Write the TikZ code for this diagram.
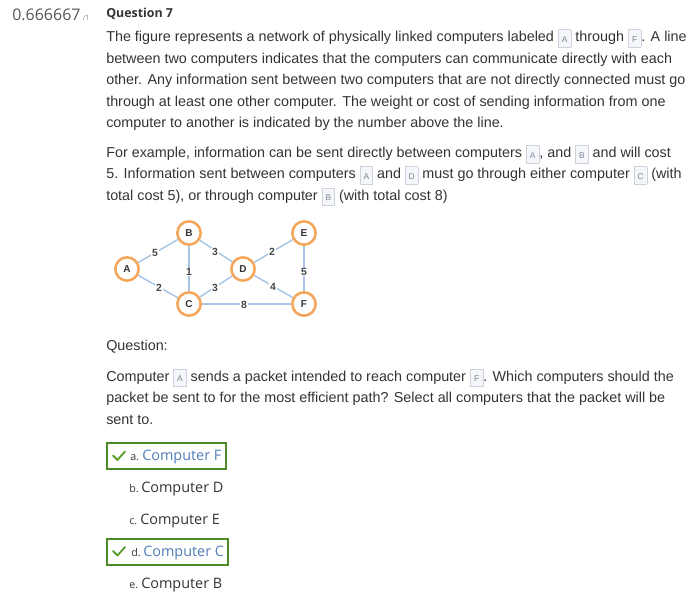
\documentclass[tikz,border=0pt]{standalone}
\usepackage{fontspec}
\setmainfont{Liberation Sans}
\newfontfamily\osans{Open Sans}
\definecolor{txt}{HTML}{333333}
\definecolor{scoregray}{HTML}{555555}
\definecolor{pcorange}{HTML}{F4A65A}
\definecolor{edgeblue}{HTML}{A9C5E6}
\definecolor{okgreen}{HTML}{4B8A24}
\definecolor{tickgreen}{HTML}{5A9E2E}
\definecolor{ansblue}{HTML}{4F7DB6}
\definecolor{boxb}{HTML}{CDD3DC}
\definecolor{boxf}{HTML}{F4F6F9}
\definecolor{boxt}{HTML}{7A8699}
\newcommand{\lbox}[1]{\raisebox{-3.6pt}{\setlength{\fboxsep}{0pt}\setlength{\fboxrule}{0.5pt}\fcolorbox{boxb}{boxf}{\makebox[9pt]{\rule{0pt}{12.6pt}\raisebox{3.3pt}{\fontsize{6.3}{7}\selectfont\color{boxt}#1}}}}}
\tikzset{
  body/.style={anchor=base west, inner sep=0pt, text=txt, font=\fontsize{10.77}{12}\selectfont},
  pc/.style={circle, draw=pcorange, line width=1.9pt, fill=white, minimum size=17.5pt, inner sep=0pt, text=txt, font=\fontsize{7.5}{8}\selectfont\bfseries},
  edge/.style={draw=edgeblue, line width=1.1pt},
  lbl/.style={fill=white, inner sep=0.5pt, text=txt!90, font=\fontsize{7.8}{8}\selectfont\bfseries},
  optlet/.style={anchor=base west, inner sep=0pt, text=txt, font=\osans\fontsize{8}{9}\selectfont},
  opttxt/.style={anchor=base west, inner sep=0pt, font=\osans\fontsize{10.8}{12}\selectfont},
  okbox/.style={draw=okgreen, line width=1.5pt},
  tick/.style={draw=tickgreen, line width=1.4pt, line cap=round, line join=round}
}
\begin{document}
\begin{tikzpicture}[x=0.75pt, y=-0.75pt]
\useasboundingbox (0,0) rectangle (694,595);
% header
\node[anchor=base west, inner sep=0pt, text=scoregray, font=\osans\fontsize{12}{13}\selectfont] (score) at (12,21) {0.666667};
\node[anchor=base west, inner sep=0pt, text=scoregray!70, font=\osans\fontsize{5.5}{6}\selectfont] (outof) at (82.5,21) {/1};
\node[anchor=base west, inner sep=0pt, text=txt, font=\osans\fontsize{9.3}{10}\selectfont\bfseries] (qtitle) at (106,18) {Question 7};
% paragraph 1
\node[body] (p1a) at (106,42) {The figure represents a network of physically linked computers labeled \lbox{A} through \lbox{F}. A line};
\node[body] (p1b) at (106,63.5) {between two computers indicates that the computers can communicate directly with each};
\node[body] (p1c) at (106,85) {other. Any information sent between two computers that are not directly connected must go};
\node[body] (p1d) at (106,106.3) {through at least one other computer. The weight or cost of sending information from one};
\node[body] (p1e) at (106,127.6) {computer to another is indicated by the number above the line.};
% paragraph 2
\node[body] (p2a) at (106,158) {For example, information can be sent directly between computers \lbox{A}, and \lbox{B} and will cost};
\node[body] (p2b) at (106,179) {5. Information sent between computers \lbox{A} and \lbox{D} must go through either computer \lbox{C} (with};
\node[body] (p2c) at (106,200.5) {total cost 5), or through computer \lbox{B} (with total cost 8)};
% graph
\node[pc] (A) at (127,269) {A};
\node[pc] (B) at (189,233) {B};
\node[pc] (C) at (189,304) {C};
\node[pc] (D) at (243,269) {D};
\node[pc] (E) at (304,233) {E};
\node[pc] (F) at (304,304) {F};
\draw[edge] (A) -- (B);
\draw[edge] (B) -- (D);
\draw[edge] (D) -- (E);
\draw[edge] (B) -- (C);
\draw[edge] (E) -- (F);
\draw[edge] (A) -- (C);
\draw[edge] (C) -- (D);
\draw[edge] (D) -- (F);
\draw[edge] (C) -- (F);
\node[lbl] (wAB) at (155,253) {5};
\node[lbl] (wBD) at (215,252) {3};
\node[lbl] (wDE) at (272,251.5) {2};
\node[lbl] (wBC) at (189,272) {1};
\node[lbl] (wEF) at (304,272) {5};
\node[lbl] (wAC) at (159,288) {2};
\node[lbl] (wCD) at (215,288) {3};
\node[lbl] (wDF) at (273,286.5) {4};
\node[lbl] (wCF) at (244,304.5) {8};
% question
\node[body] (qlab) at (106,351) {Question:};
\node[body] (p3a) at (106,381.5) {Computer \lbox{A} sends a packet intended to reach computer \lbox{F}. Which computers should the};
\node[body] (p3b) at (106,403) {packet be sent to for the most efficient path? Select all computers that the packet will be};
\node[body] (p3c) at (106,424.5) {sent to.};
% options
\draw[okbox] (107,443) rectangle (226,469);
\draw[tick] (113,455.5) -- (117.5,460) -- (125,451.5);
\node[optlet] (la) at (130,461) {a.};
\node[opttxt, text=ansblue] (oa) at (142,461) {Computer F};
\node[optlet] (lb) at (129,493) {b.};
\node[opttxt, text=txt] (ob) at (141,493) {Computer D};
\node[optlet] (lc) at (129,525) {c.};
\node[opttxt, text=txt] (oc) at (140,525) {Computer E};
\draw[okbox] (107,539.5) rectangle (228,565.5);
\draw[tick] (113,551) -- (117.5,555.5) -- (125,547);
\node[optlet] (ld) at (131,557) {d.};
\node[opttxt, text=ansblue] (od) at (143,557) {Computer C};
\node[optlet] (le) at (129,589) {e.};
\node[opttxt, text=txt] (oe) at (141,589) {Computer B};
\end{tikzpicture}
\end{document}
